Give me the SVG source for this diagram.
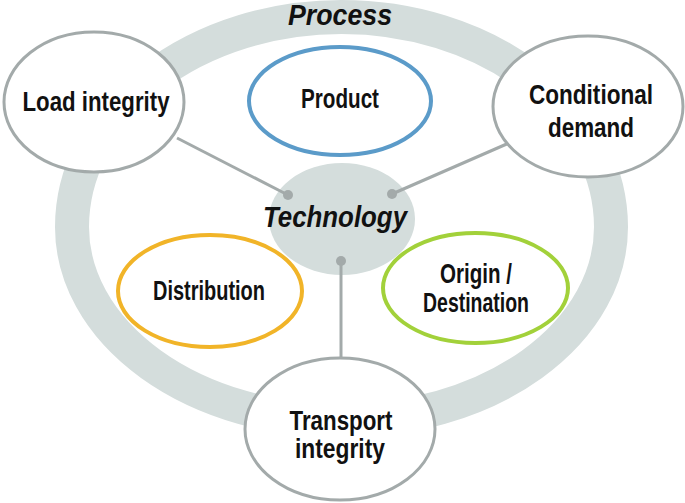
<svg xmlns="http://www.w3.org/2000/svg" width="685" height="503" viewBox="0 0 685 503">
<style>
.ring{fill:none;stroke:#d4dddc;stroke-width:34}
.node{fill:#ffffff;stroke:#a3aaaa;stroke-width:3}
.tech{fill:#d4dddc;stroke:none}
.conn{stroke:#a3aaaa;stroke-width:3;fill:none}
.dot{fill:#a3aaaa}
.lbl{font-family:"Liberation Sans",Arial,sans-serif;font-weight:bold;font-size:27px;fill:#111111;text-anchor:middle}
.it{font-style:italic;font-size:29px}
</style>
<rect width="685" height="503" fill="#ffffff"/>
<g id="process">
<path class="ring" d="M 72 227 A 269.5 210 0 0 1 611 227 A 269.5 194 0 0 1 72 227 Z"/>
<text class="lbl it" x="340" y="25" textLength="104" lengthAdjust="spacingAndGlyphs">Process</text>
</g>
<g id="technology">
<ellipse class="tech" cx="342" cy="219" rx="73" ry="56"/>
<text class="lbl it" x="335" y="227" textLength="144" lengthAdjust="spacingAndGlyphs">Technology</text>
</g>
<g id="connectors">
<line class="conn" x1="177" y1="138" x2="288" y2="195"/>
<line class="conn" x1="509" y1="143" x2="392" y2="194"/>
<line class="conn" x1="341" y1="358" x2="341" y2="261"/>
<circle class="dot" cx="288" cy="195" r="5"/>
<circle class="dot" cx="392" cy="194" r="5"/>
<circle class="dot" cx="341" cy="261" r="5"/>
</g>
<g id="load-integrity">
<ellipse class="node" cx="94" cy="102" rx="90" ry="70"/>
<text class="lbl" x="96" y="111" textLength="147" lengthAdjust="spacingAndGlyphs">Load integrity</text>
</g>
<g id="product">
<ellipse cx="340" cy="101" rx="91" ry="54" fill="#ffffff" stroke="#5b9bc9" stroke-width="4"/>
<text class="lbl" x="340" y="108" textLength="78" lengthAdjust="spacingAndGlyphs">Product</text>
</g>
<g id="conditional-demand">
<ellipse class="node" cx="588" cy="106.5" rx="95" ry="70.5"/>
<text class="lbl" x="591" y="104" textLength="124" lengthAdjust="spacingAndGlyphs">Conditional</text>
<text class="lbl" x="591" y="137" textLength="86" lengthAdjust="spacingAndGlyphs">demand</text>
</g>
<g id="distribution">
<ellipse cx="210" cy="291" rx="92" ry="56" fill="#ffffff" stroke="#f1b428" stroke-width="4"/>
<text class="lbl" x="209" y="300" textLength="112" lengthAdjust="spacingAndGlyphs">Distribution</text>
</g>
<g id="origin-destination">
<ellipse cx="475.5" cy="288" rx="92.5" ry="55" fill="#ffffff" stroke="#a2d13a" stroke-width="4"/>
<text class="lbl" x="476" y="283" textLength="72" lengthAdjust="spacingAndGlyphs">Origin /</text>
<text class="lbl" x="476" y="312" textLength="106" lengthAdjust="spacingAndGlyphs">Destination</text>
</g>
<g id="transport-integrity">
<ellipse class="node" cx="340" cy="429" rx="95" ry="71"/>
<text class="lbl" x="341" y="430" textLength="103" lengthAdjust="spacingAndGlyphs">Transport</text>
<text class="lbl" x="340" y="458" textLength="90" lengthAdjust="spacingAndGlyphs">integrity</text>
</g>
</svg>
